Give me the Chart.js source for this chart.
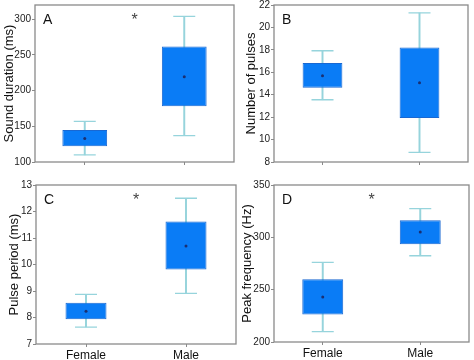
<!DOCTYPE html>
<html>
<head>
<meta charset="utf-8">
<script src="https://cdn.jsdelivr.net/npm/chart.js@4.4.0/dist/chart.umd.min.js"></script>
<style>
body { margin: 0; background: #fff; width: 474px; height: 360px; position: relative; overflow: hidden; }
canvas { position: absolute; }
</style>
</head>
<body>
<canvas id="cA" width="237" height="172" style="left:0;top:0"></canvas>
<canvas id="cB" width="237" height="172" style="left:237px;top:0"></canvas>
<canvas id="cC" width="237" height="188" style="left:0;top:172px"></canvas>
<canvas id="cD" width="237" height="188" style="left:237px;top:172px"></canvas>
<script>
/*********************************  Data  *********************************/
var groups = ['Female', 'Male'];

// A - sound duration (ms)
var durLow = [110, 137], durQ1 = [122, 178], durQ3 = [145, 262], durHigh = [157, 304], durMean = [133, 219.5];
var durTicks = [100, 150, 200, 250, 300];

// B - number of pulses
var pulLow = [13.55, 8.86], pulQ1 = [14.62, 11.93], pulQ3 = [16.83, 18.22], pulHigh = [17.92, 21.29], pulMean = [15.68, 15.06];
var pulTicks = [8, 10, 12, 14, 16, 18, 20, 22];

// C - pulse period (ms)
var perLow = [7.64, 8.91], perQ1 = [7.93, 9.81], perQ3 = [8.56, 11.62], perHigh = [8.87, 12.5], perMean = [8.24, 10.7];
var perTicks = [7, 8, 9, 10, 11, 12, 13];

// D - peak frequency (Hz)
var frqLow = [210, 282.4], frqQ1 = [226.3, 293.5], frqQ3 = [260, 316.4], frqHigh = [276, 327.5], frqMean = [243, 305];
var frqTicks = [200, 250, 300, 350];

var boxBlue = 'rgb(10, 124, 246)';
var whiskerColor = 'rgb(150, 212, 220)';
var frameGray = '#8a8a8a';
var font = '"Liberation Sans", Arial, sans-serif';

/****************************  Frame + labels  ****************************/
var framePlugin = {
    id: 'frame',
    afterDraw: function(chart, args, o) {
        var a = chart.chartArea, ctx = chart.ctx;
        ctx.save();
        ctx.strokeStyle = frameGray;
        ctx.lineWidth = 1.3;
        ctx.strokeRect(a.left, a.top, a.right - a.left, a.bottom - a.top);
        ctx.fillStyle = '#111';
        ctx.font = '14px ' + font;
        ctx.textBaseline = 'middle';
        ctx.fillText(o.letter, a.left + 8, a.top + 15);
        if (o.star) {
            ctx.textAlign = 'center';
            ctx.fillStyle = '#444';
            ctx.font = '16px ' + font;
            ctx.fillText('*', (a.left + a.right) / 2, a.top + 16);
        }
        ctx.restore();
    }
};

function pairs(lo, hi) {
    var out = [];
    for (var i = 0; i < lo.length; i++) out.push([lo[i], hi[i]]);
    return out;
}

function boxChart(id, p) {
    return new Chart(document.getElementById(id), {
        type: 'bar',
        data: {
            labels: groups,
            datasets: [{
                type: 'line',
                data: p.mean,
                showLine: false,
                pointRadius: 1.5,
                pointBackgroundColor: '#1a2f72',
                pointBorderWidth: 0,
                order: 0
            }, {
                type: 'line',
                data: p.low,
                showLine: false,
                pointStyle: 'line',
                pointRadius: 11,
                pointBorderColor: whiskerColor,
                pointBorderWidth: 1.3,
                order: 1
            }, {
                type: 'line',
                data: p.high,
                showLine: false,
                pointStyle: 'line',
                pointRadius: 11,
                pointBorderColor: whiskerColor,
                pointBorderWidth: 1.3,
                order: 1
            }, {
                data: pairs(p.q1, p.q3),
                backgroundColor: boxBlue,
                borderColor: 'rgb(25, 104, 210)',
                borderWidth: 1,
                borderSkipped: false,
                grouped: false,
                categoryPercentage: 1,
                barPercentage: p.boxPct,
                order: 2
            }, {
                data: pairs(p.low, p.high),
                backgroundColor: whiskerColor,
                grouped: false,
                barThickness: 1.3,
                order: 3
            }]
        },
        options: {
            responsive: false,
            animation: false,
            layout: { autoPadding: false, padding: { left: 0, right: p.padR, top: p.padT, bottom: 0 } },
            plugins: {
                legend: { display: false },
                tooltip: { enabled: false },
                frame: { letter: p.letter, star: p.star }
            },
            scales: {
                x: {
                    offset: true,
                    grid: { drawOnChartArea: false, tickLength: 3, color: frameGray, offset: false },
                    border: { display: false },
                    ticks: { display: p.showX, padding: 1, color: '#111', font: { family: font, size: 12 } },
                    afterFit: function(s) { s.height = p.xh; s.paddingLeft = 0; s.paddingRight = 0; }
                },
                y: {
                    min: p.min,
                    max: p.max,
                    grid: { drawOnChartArea: false, tickLength: 3, color: frameGray },
                    border: { display: false },
                    ticks: { padding: 1, color: '#222', font: { family: font, size: 10 } },
                    afterBuildTicks: function(s) {
                        s.ticks = p.ticks.map(function(v) { return { value: v }; });
                    },
                    title: {
                        display: true, text: p.title, color: '#111',
                        padding: { top: p.titlePad, bottom: 0 },
                        font: { family: font, size: 13, lineHeight: 1 }
                    },
                    afterFit: function(s) { s.width = p.yw; s.paddingTop = 0; s.paddingBottom = 0; }
                }
            }
        },
        plugins: [framePlugin]
    });
}

/*******************************  Charts  *********************************/
boxChart('cA', {
    low: durLow, q1: durQ1, q3: durQ3, high: durHigh, mean: durMean,
    min: 100, max: 320, ticks: durTicks, title: 'Sound duration (ms)',
    letter: 'A', star: true, showX: false, boxPct: 0.45, titlePad: 2.5,
    yw: 35, padR: 3, padT: 5, xh: 10
});
boxChart('cB', {
    low: pulLow, q1: pulQ1, q3: pulQ3, high: pulHigh, mean: pulMean,
    min: 8, max: 22, ticks: pulTicks, title: 'Number of pulses',
    letter: 'B', star: false, showX: false, boxPct: 0.41, titlePad: 8,
    yw: 37, padR: 6, padT: 5, xh: 10
});
boxChart('cC', {
    low: perLow, q1: perQ1, q3: perQ3, high: perHigh, mean: perMean,
    min: 7, max: 13, ticks: perTicks, title: 'Pulse period (ms)',
    letter: 'C', star: true, showX: true, boxPct: 0.41, titlePad: 7.5,
    yw: 36, padR: 1, padT: 13, xh: 16
});
boxChart('cD', {
    low: frqLow, q1: frqQ1, q3: frqQ3, high: frqHigh, mean: frqMean,
    min: 200, max: 350, ticks: frqTicks, title: 'Peak frequency (Hz)',
    letter: 'D', star: true, showX: true, boxPct: 0.42, titlePad: 3.5,
    yw: 37, padR: 5, padT: 13, xh: 18
});
</script>
</body>
</html>
